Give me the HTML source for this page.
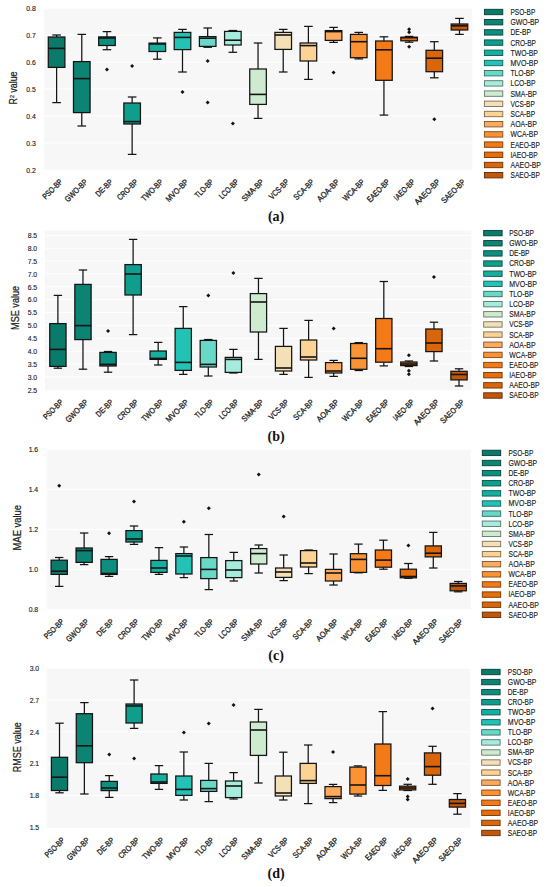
<!DOCTYPE html>
<html><head><meta charset="utf-8"><title>Box plots</title>
<style>
html,body{margin:0;padding:0;background:#fff;}
svg{display:block;}
text{font-family:"Liberation Sans",sans-serif;}
.t{stroke:#1a1a1a;stroke-width:0.15;}
.t2{stroke:#1a1a1a;stroke-width:0.3;}
</style></head>
<body>
<svg width="550" height="887" viewBox="0 0 550 887">
<rect width="550" height="887" fill="#fff"/>
<rect x="44" y="8.7" width="428.3" height="161.3" fill="#f7f7f7"/>
<line x1="44" x2="472.3" y1="142.87" y2="142.87" stroke="#ffffff" stroke-width="1"/>
<line x1="44" x2="472.3" y1="115.94" y2="115.94" stroke="#ffffff" stroke-width="1"/>
<line x1="44" x2="472.3" y1="89.01" y2="89.01" stroke="#ffffff" stroke-width="1"/>
<line x1="44" x2="472.3" y1="62.08" y2="62.08" stroke="#ffffff" stroke-width="1"/>
<line x1="44" x2="472.3" y1="35.15" y2="35.15" stroke="#ffffff" stroke-width="1"/>
<text class="t" x="35.8" y="172.55" font-size="8.1" text-anchor="end" textLength="9.56" lengthAdjust="spacingAndGlyphs" fill="#1a1a1a">0.2</text>
<text class="t" x="35.8" y="145.62" font-size="8.1" text-anchor="end" textLength="9.56" lengthAdjust="spacingAndGlyphs" fill="#1a1a1a">0.3</text>
<text class="t" x="35.8" y="118.69" font-size="8.1" text-anchor="end" textLength="9.56" lengthAdjust="spacingAndGlyphs" fill="#1a1a1a">0.4</text>
<text class="t" x="35.8" y="91.76" font-size="8.1" text-anchor="end" textLength="9.56" lengthAdjust="spacingAndGlyphs" fill="#1a1a1a">0.5</text>
<text class="t" x="35.8" y="64.83" font-size="8.1" text-anchor="end" textLength="9.56" lengthAdjust="spacingAndGlyphs" fill="#1a1a1a">0.6</text>
<text class="t" x="35.8" y="37.9" font-size="8.1" text-anchor="end" textLength="9.56" lengthAdjust="spacingAndGlyphs" fill="#1a1a1a">0.7</text>
<text class="t" x="35.8" y="10.97" font-size="8.1" text-anchor="end" textLength="9.56" lengthAdjust="spacingAndGlyphs" fill="#1a1a1a">0.8</text>
<text transform="translate(17.4 88) rotate(-90)" font-size="10" text-anchor="middle" stroke="#1a1a1a" stroke-width="0.22" textLength="33" lengthAdjust="spacingAndGlyphs" fill="#1a1a1a">R<tspan font-size="6" dy="-3.2">2</tspan><tspan dy="3.2"> value</tspan></text>
<g stroke="#141414" stroke-width="1.25"><line x1="56.6" x2="56.6" y1="35" y2="37"/><line x1="52.3" x2="60.9" y1="35" y2="35"/><line x1="56.6" x2="56.6" y1="67.4" y2="102.6"/><line x1="52.3" x2="60.9" y1="102.6" y2="102.6"/><rect x="48.3" y="37" width="16.6" height="30.4" fill="#0a7a6a"/><line x1="48.3" x2="64.9" y1="48.4" y2="48.4" stroke-width="1.6"/></g>
<text class="t2" transform="translate(63 182.5) rotate(-45)" font-size="8.2" text-anchor="end" textLength="24.36" lengthAdjust="spacingAndGlyphs" fill="#1a1a1a">PSO-BP</text>
<g stroke="#141414" stroke-width="1.25"><line x1="81.78" x2="81.78" y1="34.4" y2="61.6"/><line x1="77.48" x2="86.08" y1="34.4" y2="34.4"/><line x1="81.78" x2="81.78" y1="112.6" y2="126"/><line x1="77.48" x2="86.08" y1="126" y2="126"/><rect x="73.48" y="61.6" width="16.6" height="51" fill="#0c8373"/><line x1="73.48" x2="90.08" y1="78.6" y2="78.6" stroke-width="1.6"/></g>
<text class="t2" transform="translate(88.18 182.5) rotate(-45)" font-size="8.2" text-anchor="end" textLength="28.46" lengthAdjust="spacingAndGlyphs" fill="#1a1a1a">GWO-BP</text>
<g stroke="#141414" stroke-width="1.25"><line x1="106.96" x2="106.96" y1="31.6" y2="36.9"/><line x1="102.66" x2="111.26" y1="31.6" y2="31.6"/><line x1="106.96" x2="106.96" y1="45.5" y2="49.7"/><line x1="102.66" x2="111.26" y1="49.7" y2="49.7"/><rect x="98.66" y="36.9" width="16.6" height="8.6" fill="#0d8e7f"/><line x1="98.66" x2="115.26" y1="38" y2="38" stroke-width="1.6"/></g>
<path d="M106.96 67.6l2 2l-2 2l-2 -2z" fill="#111"/>
<text class="t2" transform="translate(113.36 182.5) rotate(-45)" font-size="8.2" text-anchor="end" textLength="20.82" lengthAdjust="spacingAndGlyphs" fill="#1a1a1a">DE-BP</text>
<g stroke="#141414" stroke-width="1.25"><line x1="132.14" x2="132.14" y1="97" y2="103"/><line x1="127.84" x2="136.44" y1="97" y2="97"/><line x1="132.14" x2="132.14" y1="124" y2="154.4"/><line x1="127.84" x2="136.44" y1="154.4" y2="154.4"/><rect x="123.84" y="103" width="16.6" height="21" fill="#0f9e8c"/><line x1="123.84" x2="140.44" y1="121.6" y2="121.6" stroke-width="1.6"/></g>
<path d="M132.14 64l2 2l-2 2l-2 -2z" fill="#111"/>
<text class="t2" transform="translate(138.54 182.5) rotate(-45)" font-size="8.2" text-anchor="end" textLength="25.88" lengthAdjust="spacingAndGlyphs" fill="#1a1a1a">CRO-BP</text>
<g stroke="#141414" stroke-width="1.25"><line x1="157.32" x2="157.32" y1="37.9" y2="43.1"/><line x1="153.02" x2="161.62" y1="37.9" y2="37.9"/><line x1="157.32" x2="157.32" y1="51.5" y2="59.2"/><line x1="153.02" x2="161.62" y1="59.2" y2="59.2"/><rect x="149.02" y="43.1" width="16.6" height="8.4" fill="#15af9e"/><line x1="149.02" x2="165.62" y1="44" y2="44" stroke-width="1.6"/></g>
<text class="t2" transform="translate(163.72 182.5) rotate(-45)" font-size="8.2" text-anchor="end" textLength="27.27" lengthAdjust="spacingAndGlyphs" fill="#1a1a1a">TWO-BP</text>
<g stroke="#141414" stroke-width="1.25"><line x1="182.5" x2="182.5" y1="29.4" y2="32.4"/><line x1="178.2" x2="186.8" y1="29.4" y2="29.4"/><line x1="182.5" x2="182.5" y1="49.6" y2="72"/><line x1="178.2" x2="186.8" y1="72" y2="72"/><rect x="174.2" y="32.4" width="16.6" height="17.2" fill="#22c2b4"/><line x1="174.2" x2="190.8" y1="37.4" y2="37.4" stroke-width="1.6"/></g>
<path d="M182.5 90l2 2l-2 2l-2 -2z" fill="#111"/>
<text class="t2" transform="translate(188.9 182.5) rotate(-45)" font-size="8.2" text-anchor="end" textLength="28.32" lengthAdjust="spacingAndGlyphs" fill="#1a1a1a">MVO-BP</text>
<g stroke="#141414" stroke-width="1.25"><line x1="207.68" x2="207.68" y1="28" y2="36.6"/><line x1="203.38" x2="211.98" y1="28" y2="28"/><line x1="203.38" x2="211.98" y1="47.3" y2="47.3"/><rect x="199.38" y="36.6" width="16.6" height="9.8" fill="#68d9c7"/><line x1="199.38" x2="215.98" y1="38.2" y2="38.2" stroke-width="1.6"/></g>
<path d="M207.68 59l2 2l-2 2l-2 -2z" fill="#111"/>
<path d="M207.68 100.4l2 2l-2 2l-2 -2z" fill="#111"/>
<text class="t2" transform="translate(214.08 182.5) rotate(-45)" font-size="8.2" text-anchor="end" textLength="22.68" lengthAdjust="spacingAndGlyphs" fill="#1a1a1a">TLO-BP</text>
<g stroke="#141414" stroke-width="1.25"><line x1="232.86" x2="232.86" y1="30.5" y2="31.4"/><line x1="228.56" x2="237.16" y1="30.5" y2="30.5"/><line x1="232.86" x2="232.86" y1="45" y2="52.3"/><line x1="228.56" x2="237.16" y1="52.3" y2="52.3"/><rect x="224.56" y="31.4" width="16.6" height="13.6" fill="#a5ecdd"/><line x1="224.56" x2="241.16" y1="40.2" y2="40.2" stroke-width="1.6"/></g>
<path d="M232.86 121.4l2 2l-2 2l-2 -2z" fill="#111"/>
<text class="t2" transform="translate(239.26 182.5) rotate(-45)" font-size="8.2" text-anchor="end" textLength="24.06" lengthAdjust="spacingAndGlyphs" fill="#1a1a1a">LCO-BP</text>
<g stroke="#141414" stroke-width="1.25"><line x1="258.04" x2="258.04" y1="43" y2="69"/><line x1="253.74" x2="262.34" y1="43" y2="43"/><line x1="258.04" x2="258.04" y1="104.4" y2="118.4"/><line x1="253.74" x2="262.34" y1="118.4" y2="118.4"/><rect x="249.74" y="69" width="16.6" height="35.4" fill="#cdeccf"/><line x1="249.74" x2="266.34" y1="94.4" y2="94.4" stroke-width="1.6"/></g>
<text class="t2" transform="translate(264.44 182.5) rotate(-45)" font-size="8.2" text-anchor="end" textLength="27.52" lengthAdjust="spacingAndGlyphs" fill="#1a1a1a">SMA-BP</text>
<g stroke="#141414" stroke-width="1.25"><line x1="283.22" x2="283.22" y1="29.4" y2="32.4"/><line x1="278.92" x2="287.52" y1="29.4" y2="29.4"/><line x1="283.22" x2="283.22" y1="49.4" y2="72"/><line x1="278.92" x2="287.52" y1="72" y2="72"/><rect x="274.92" y="32.4" width="16.6" height="17" fill="#f3e0b6"/><line x1="274.92" x2="291.52" y1="35" y2="35" stroke-width="1.6"/></g>
<text class="t2" transform="translate(289.62 182.5) rotate(-45)" font-size="8.2" text-anchor="end" textLength="24.63" lengthAdjust="spacingAndGlyphs" fill="#1a1a1a">VCS-BP</text>
<g stroke="#141414" stroke-width="1.25"><line x1="308.4" x2="308.4" y1="26.4" y2="43"/><line x1="304.1" x2="312.7" y1="26.4" y2="26.4"/><line x1="308.4" x2="308.4" y1="61" y2="79.4"/><line x1="304.1" x2="312.7" y1="79.4" y2="79.4"/><rect x="300.1" y="43" width="16.6" height="18" fill="#fdd295"/><line x1="300.1" x2="316.7" y1="45.6" y2="45.6" stroke-width="1.6"/></g>
<text class="t2" transform="translate(314.8 182.5) rotate(-45)" font-size="8.2" text-anchor="end" textLength="25.39" lengthAdjust="spacingAndGlyphs" fill="#1a1a1a">SCA-BP</text>
<g stroke="#141414" stroke-width="1.25"><line x1="333.58" x2="333.58" y1="27.4" y2="30.6"/><line x1="329.28" x2="337.88" y1="27.4" y2="27.4"/><line x1="333.58" x2="333.58" y1="40.4" y2="42.4"/><line x1="329.28" x2="337.88" y1="42.4" y2="42.4"/><rect x="325.28" y="30.6" width="16.6" height="9.8" fill="#fcab5e"/><line x1="325.28" x2="341.88" y1="31.6" y2="31.6" stroke-width="1.6"/></g>
<path d="M333.58 70.4l2 2l-2 2l-2 -2z" fill="#111"/>
<text class="t2" transform="translate(339.98 182.5) rotate(-45)" font-size="8.2" text-anchor="end" textLength="27.82" lengthAdjust="spacingAndGlyphs" fill="#1a1a1a">AOA-BP</text>
<g stroke="#141414" stroke-width="1.25"><line x1="358.76" x2="358.76" y1="32.4" y2="34.4"/><line x1="354.46" x2="363.06" y1="32.4" y2="32.4"/><line x1="358.76" x2="358.76" y1="57.7" y2="58.9"/><line x1="354.46" x2="363.06" y1="58.9" y2="58.9"/><rect x="350.46" y="34.4" width="16.6" height="23.3" fill="#fb9233"/><line x1="350.46" x2="367.06" y1="41.7" y2="41.7" stroke-width="1.6"/></g>
<text class="t2" transform="translate(365.16 182.5) rotate(-45)" font-size="8.2" text-anchor="end" textLength="27.04" lengthAdjust="spacingAndGlyphs" fill="#1a1a1a">WCA-BP</text>
<g stroke="#141414" stroke-width="1.25"><line x1="383.94" x2="383.94" y1="36.8" y2="41"/><line x1="379.64" x2="388.24" y1="36.8" y2="36.8"/><line x1="383.94" x2="383.94" y1="80.3" y2="115.1"/><line x1="379.64" x2="388.24" y1="115.1" y2="115.1"/><rect x="375.64" y="41" width="16.6" height="39.3" fill="#f47a18"/><line x1="375.64" x2="392.24" y1="49.8" y2="49.8" stroke-width="1.6"/></g>
<text class="t2" transform="translate(390.34 182.5) rotate(-45)" font-size="8.2" text-anchor="end" textLength="28.56" lengthAdjust="spacingAndGlyphs" fill="#1a1a1a">EAEO-BP</text>
<g stroke="#141414" stroke-width="1.25"><line x1="404.82" x2="413.42" y1="36.4" y2="36.4"/><line x1="409.12" x2="409.12" y1="40.8" y2="42.2"/><line x1="404.82" x2="413.42" y1="42.2" y2="42.2"/><rect x="400.82" y="37.3" width="16.6" height="3.5" fill="#e66d0a"/><line x1="400.82" x2="417.42" y1="37.6" y2="37.6" stroke-width="1.6"/></g>
<path d="M409.12 27.3l2 2l-2 2l-2 -2z" fill="#111"/>
<path d="M409.12 30.3l2 2l-2 2l-2 -2z" fill="#111"/>
<path d="M409.12 44.7l2 2l-2 2l-2 -2z" fill="#111"/>
<text class="t2" transform="translate(415.52 182.5) rotate(-45)" font-size="8.2" text-anchor="end" textLength="26.03" lengthAdjust="spacingAndGlyphs" fill="#1a1a1a">IAEO-BP</text>
<g stroke="#141414" stroke-width="1.25"><line x1="434.3" x2="434.3" y1="41.7" y2="50.3"/><line x1="430" x2="438.6" y1="41.7" y2="41.7"/><line x1="434.3" x2="434.3" y1="71.7" y2="77.8"/><line x1="430" x2="438.6" y1="77.8" y2="77.8"/><rect x="426" y="50.3" width="16.6" height="21.4" fill="#da660a"/><line x1="426" x2="442.6" y1="58.2" y2="58.2" stroke-width="1.6"/></g>
<path d="M434.3 117.3l2 2l-2 2l-2 -2z" fill="#111"/>
<text class="t2" transform="translate(440.7 182.5) rotate(-45)" font-size="8.2" text-anchor="end" textLength="32.29" lengthAdjust="spacingAndGlyphs" fill="#1a1a1a">AAEO-BP</text>
<g stroke="#141414" stroke-width="1.25"><line x1="459.48" x2="459.48" y1="18.4" y2="24"/><line x1="455.18" x2="463.78" y1="18.4" y2="18.4"/><line x1="459.48" x2="459.48" y1="30" y2="34.4"/><line x1="455.18" x2="463.78" y1="34.4" y2="34.4"/><rect x="451.18" y="24" width="16.6" height="6" fill="#c2570b"/><line x1="451.18" x2="467.78" y1="25.8" y2="25.8" stroke-width="1.6"/></g>
<text class="t2" transform="translate(465.88 182.5) rotate(-45)" font-size="8.2" text-anchor="end" textLength="30.07" lengthAdjust="spacingAndGlyphs" fill="#1a1a1a">SAEO-BP</text>
<rect x="484.4" y="9.3" width="18.4" height="5.4" fill="#0a7a6a" stroke="#053d35" stroke-width="0.9"/>
<text class="t" x="510.5" y="14.9" font-size="8.3" textLength="24.76" lengthAdjust="spacingAndGlyphs" fill="#1a1a1a">PSO-BP</text>
<rect x="484.4" y="19.5" width="18.4" height="5.4" fill="#0c8373" stroke="#064139" stroke-width="0.9"/>
<text class="t" x="510.5" y="25.1" font-size="8.3" textLength="28.62" lengthAdjust="spacingAndGlyphs" fill="#1a1a1a">GWO-BP</text>
<rect x="484.4" y="29.7" width="18.4" height="5.4" fill="#0d8e7f" stroke="#06473f" stroke-width="0.9"/>
<text class="t" x="510.5" y="35.3" font-size="8.3" textLength="20.31" lengthAdjust="spacingAndGlyphs" fill="#1a1a1a">DE-BP</text>
<rect x="484.4" y="39.9" width="18.4" height="5.4" fill="#0f9e8c" stroke="#074f46" stroke-width="0.9"/>
<text class="t" x="510.5" y="45.5" font-size="8.3" textLength="25.5" lengthAdjust="spacingAndGlyphs" fill="#1a1a1a">CRO-BP</text>
<rect x="484.4" y="50.1" width="18.4" height="5.4" fill="#15af9e" stroke="#0a574f" stroke-width="0.9"/>
<text class="t" x="510.5" y="55.7" font-size="8.3" textLength="27.43" lengthAdjust="spacingAndGlyphs" fill="#1a1a1a">TWO-BP</text>
<rect x="484.4" y="60.3" width="18.4" height="5.4" fill="#22c2b4" stroke="#11615a" stroke-width="0.9"/>
<text class="t" x="510.5" y="65.9" font-size="8.3" textLength="27.63" lengthAdjust="spacingAndGlyphs" fill="#1a1a1a">MVO-BP</text>
<rect x="484.4" y="70.5" width="18.4" height="5.4" fill="#68d9c7" stroke="#346c63" stroke-width="0.9"/>
<text class="t" x="510.5" y="76.1" font-size="8.3" textLength="24.31" lengthAdjust="spacingAndGlyphs" fill="#1a1a1a">TLO-BP</text>
<rect x="484.4" y="80.7" width="18.4" height="5.4" fill="#a5ecdd" stroke="#52766e" stroke-width="0.9"/>
<text class="t" x="510.5" y="86.3" font-size="8.3" textLength="24.98" lengthAdjust="spacingAndGlyphs" fill="#1a1a1a">LCO-BP</text>
<rect x="484.4" y="90.9" width="18.4" height="5.4" fill="#cdeccf" stroke="#667667" stroke-width="0.9"/>
<text class="t" x="510.5" y="96.5" font-size="8.3" textLength="26.32" lengthAdjust="spacingAndGlyphs" fill="#1a1a1a">SMA-BP</text>
<rect x="484.4" y="101.1" width="18.4" height="5.4" fill="#f3e0b6" stroke="#79705b" stroke-width="0.9"/>
<text class="t" x="510.5" y="106.7" font-size="8.3" textLength="24.27" lengthAdjust="spacingAndGlyphs" fill="#1a1a1a">VCS-BP</text>
<rect x="484.4" y="111.3" width="18.4" height="5.4" fill="#fdd295" stroke="#7e694a" stroke-width="0.9"/>
<text class="t" x="510.5" y="116.9" font-size="8.3" textLength="24.53" lengthAdjust="spacingAndGlyphs" fill="#1a1a1a">SCA-BP</text>
<rect x="484.4" y="121.5" width="18.4" height="5.4" fill="#fcab5e" stroke="#7e552f" stroke-width="0.9"/>
<text class="t" x="510.5" y="127.1" font-size="8.3" textLength="26.35" lengthAdjust="spacingAndGlyphs" fill="#1a1a1a">AOA-BP</text>
<rect x="484.4" y="131.7" width="18.4" height="5.4" fill="#fb9233" stroke="#7d4919" stroke-width="0.9"/>
<text class="t" x="510.5" y="137.3" font-size="8.3" textLength="27.48" lengthAdjust="spacingAndGlyphs" fill="#1a1a1a">WCA-BP</text>
<rect x="484.4" y="141.9" width="18.4" height="5.4" fill="#f47a18" stroke="#7a3d0c" stroke-width="0.9"/>
<text class="t" x="510.5" y="147.5" font-size="8.3" textLength="29.33" lengthAdjust="spacingAndGlyphs" fill="#1a1a1a">EAEO-BP</text>
<rect x="484.4" y="152.1" width="18.4" height="5.4" fill="#e66d0a" stroke="#733605" stroke-width="0.9"/>
<text class="t" x="510.5" y="157.7" font-size="8.3" textLength="27.3" lengthAdjust="spacingAndGlyphs" fill="#1a1a1a">IAEO-BP</text>
<rect x="484.4" y="162.3" width="18.4" height="5.4" fill="#da660a" stroke="#6d3305" stroke-width="0.9"/>
<text class="t" x="510.5" y="167.9" font-size="8.3" textLength="30.29" lengthAdjust="spacingAndGlyphs" fill="#1a1a1a">AAEO-BP</text>
<rect x="484.4" y="172.5" width="18.4" height="5.4" fill="#c2570b" stroke="#612b05" stroke-width="0.9"/>
<text class="t" x="510.5" y="178.1" font-size="8.3" textLength="29.34" lengthAdjust="spacingAndGlyphs" fill="#1a1a1a">SAEO-BP</text>
<text x="276.1" y="220.6" style="font-family:'Liberation Serif',serif" font-weight="bold" font-size="14" text-anchor="middle" fill="#111">(a)</text>
<rect x="45" y="230.5" width="426.4" height="159.8" fill="#f7f7f7"/>
<line x1="45" x2="471.4" y1="376.93" y2="376.93" stroke="#ffffff" stroke-width="1"/>
<line x1="45" x2="471.4" y1="364.05" y2="364.05" stroke="#ffffff" stroke-width="1"/>
<line x1="45" x2="471.4" y1="351.18" y2="351.18" stroke="#ffffff" stroke-width="1"/>
<line x1="45" x2="471.4" y1="338.3" y2="338.3" stroke="#ffffff" stroke-width="1"/>
<line x1="45" x2="471.4" y1="325.43" y2="325.43" stroke="#ffffff" stroke-width="1"/>
<line x1="45" x2="471.4" y1="312.55" y2="312.55" stroke="#ffffff" stroke-width="1"/>
<line x1="45" x2="471.4" y1="299.68" y2="299.68" stroke="#ffffff" stroke-width="1"/>
<line x1="45" x2="471.4" y1="286.8" y2="286.8" stroke="#ffffff" stroke-width="1"/>
<line x1="45" x2="471.4" y1="273.93" y2="273.93" stroke="#ffffff" stroke-width="1"/>
<line x1="45" x2="471.4" y1="261.05" y2="261.05" stroke="#ffffff" stroke-width="1"/>
<line x1="45" x2="471.4" y1="248.18" y2="248.18" stroke="#ffffff" stroke-width="1"/>
<line x1="45" x2="471.4" y1="235.3" y2="235.3" stroke="#ffffff" stroke-width="1"/>
<text class="t" x="37.2" y="392.55" font-size="8.1" text-anchor="end" textLength="9.56" lengthAdjust="spacingAndGlyphs" fill="#1a1a1a">2.5</text>
<text class="t" x="37.2" y="379.68" font-size="8.1" text-anchor="end" textLength="9.56" lengthAdjust="spacingAndGlyphs" fill="#1a1a1a">3.0</text>
<text class="t" x="37.2" y="366.8" font-size="8.1" text-anchor="end" textLength="9.56" lengthAdjust="spacingAndGlyphs" fill="#1a1a1a">3.5</text>
<text class="t" x="37.2" y="353.93" font-size="8.1" text-anchor="end" textLength="9.56" lengthAdjust="spacingAndGlyphs" fill="#1a1a1a">4.0</text>
<text class="t" x="37.2" y="341.05" font-size="8.1" text-anchor="end" textLength="9.56" lengthAdjust="spacingAndGlyphs" fill="#1a1a1a">4.5</text>
<text class="t" x="37.2" y="328.18" font-size="8.1" text-anchor="end" textLength="9.56" lengthAdjust="spacingAndGlyphs" fill="#1a1a1a">5.0</text>
<text class="t" x="37.2" y="315.3" font-size="8.1" text-anchor="end" textLength="9.56" lengthAdjust="spacingAndGlyphs" fill="#1a1a1a">5.5</text>
<text class="t" x="37.2" y="302.43" font-size="8.1" text-anchor="end" textLength="9.56" lengthAdjust="spacingAndGlyphs" fill="#1a1a1a">6.0</text>
<text class="t" x="37.2" y="289.55" font-size="8.1" text-anchor="end" textLength="9.56" lengthAdjust="spacingAndGlyphs" fill="#1a1a1a">6.5</text>
<text class="t" x="37.2" y="276.68" font-size="8.1" text-anchor="end" textLength="9.56" lengthAdjust="spacingAndGlyphs" fill="#1a1a1a">7.0</text>
<text class="t" x="37.2" y="263.8" font-size="8.1" text-anchor="end" textLength="9.56" lengthAdjust="spacingAndGlyphs" fill="#1a1a1a">7.5</text>
<text class="t" x="37.2" y="250.93" font-size="8.1" text-anchor="end" textLength="9.56" lengthAdjust="spacingAndGlyphs" fill="#1a1a1a">8.0</text>
<text class="t" x="37.2" y="238.05" font-size="8.1" text-anchor="end" textLength="9.56" lengthAdjust="spacingAndGlyphs" fill="#1a1a1a">8.5</text>
<text transform="translate(19.4 307.9) rotate(-90)" font-size="10" text-anchor="middle" stroke="#1a1a1a" stroke-width="0.22" textLength="44" lengthAdjust="spacingAndGlyphs" fill="#1a1a1a">MSE value</text>
<g stroke="#141414" stroke-width="1.25"><line x1="57.9" x2="57.9" y1="295.4" y2="323.6"/><line x1="53.7" x2="62.1" y1="295.4" y2="295.4"/><line x1="57.9" x2="57.9" y1="366.4" y2="368.2"/><line x1="53.7" x2="62.1" y1="368.2" y2="368.2"/><rect x="49.75" y="323.6" width="16.3" height="42.8" fill="#0a7a6a"/><line x1="49.75" x2="66.05" y1="349.4" y2="349.4" stroke-width="1.6"/></g>
<text class="t2" transform="translate(63.7 402.8) rotate(-45)" font-size="8.2" text-anchor="end" textLength="24.36" lengthAdjust="spacingAndGlyphs" fill="#1a1a1a">PSO-BP</text>
<g stroke="#141414" stroke-width="1.25"><line x1="82.97" x2="82.97" y1="270" y2="284.4"/><line x1="78.77" x2="87.17" y1="270" y2="270"/><line x1="82.97" x2="82.97" y1="339.6" y2="369.2"/><line x1="78.77" x2="87.17" y1="369.2" y2="369.2"/><rect x="74.82" y="284.4" width="16.3" height="55.2" fill="#0c8373"/><line x1="74.82" x2="91.12" y1="325.6" y2="325.6" stroke-width="1.6"/></g>
<text class="t2" transform="translate(88.77 402.8) rotate(-45)" font-size="8.2" text-anchor="end" textLength="28.46" lengthAdjust="spacingAndGlyphs" fill="#1a1a1a">GWO-BP</text>
<g stroke="#141414" stroke-width="1.25"><line x1="103.84" x2="112.24" y1="351.5" y2="351.5"/><line x1="108.04" x2="108.04" y1="366" y2="372.2"/><line x1="103.84" x2="112.24" y1="372.2" y2="372.2"/><rect x="99.89" y="352.4" width="16.3" height="13.6" fill="#0d8e7f"/><line x1="99.89" x2="116.19" y1="364.4" y2="364.4" stroke-width="1.6"/></g>
<path d="M108.04 329l2 2l-2 2l-2 -2z" fill="#111"/>
<text class="t2" transform="translate(113.84 402.8) rotate(-45)" font-size="8.2" text-anchor="end" textLength="20.82" lengthAdjust="spacingAndGlyphs" fill="#1a1a1a">DE-BP</text>
<g stroke="#141414" stroke-width="1.25"><line x1="133.11" x2="133.11" y1="239.4" y2="264.6"/><line x1="128.91" x2="137.31" y1="239.4" y2="239.4"/><line x1="133.11" x2="133.11" y1="295" y2="334.6"/><line x1="128.91" x2="137.31" y1="334.6" y2="334.6"/><rect x="124.96" y="264.6" width="16.3" height="30.4" fill="#0f9e8c"/><line x1="124.96" x2="141.26" y1="274" y2="274" stroke-width="1.6"/></g>
<text class="t2" transform="translate(138.91 402.8) rotate(-45)" font-size="8.2" text-anchor="end" textLength="25.88" lengthAdjust="spacingAndGlyphs" fill="#1a1a1a">CRO-BP</text>
<g stroke="#141414" stroke-width="1.25"><line x1="158.18" x2="158.18" y1="342.4" y2="351"/><line x1="153.98" x2="162.38" y1="342.4" y2="342.4"/><line x1="158.18" x2="158.18" y1="359.4" y2="365"/><line x1="153.98" x2="162.38" y1="365" y2="365"/><rect x="150.03" y="351" width="16.3" height="8.4" fill="#15af9e"/><line x1="150.03" x2="166.33" y1="358.4" y2="358.4" stroke-width="1.6"/></g>
<text class="t2" transform="translate(163.98 402.8) rotate(-45)" font-size="8.2" text-anchor="end" textLength="27.27" lengthAdjust="spacingAndGlyphs" fill="#1a1a1a">TWO-BP</text>
<g stroke="#141414" stroke-width="1.25"><line x1="183.25" x2="183.25" y1="306.6" y2="328.4"/><line x1="179.05" x2="187.45" y1="306.6" y2="306.6"/><line x1="183.25" x2="183.25" y1="370.4" y2="374.4"/><line x1="179.05" x2="187.45" y1="374.4" y2="374.4"/><rect x="175.1" y="328.4" width="16.3" height="42" fill="#22c2b4"/><line x1="175.1" x2="191.4" y1="362.4" y2="362.4" stroke-width="1.6"/></g>
<text class="t2" transform="translate(189.05 402.8) rotate(-45)" font-size="8.2" text-anchor="end" textLength="28.32" lengthAdjust="spacingAndGlyphs" fill="#1a1a1a">MVO-BP</text>
<g stroke="#141414" stroke-width="1.25"><line x1="204.12" x2="212.52" y1="339.5" y2="339.5"/><line x1="208.32" x2="208.32" y1="367" y2="376"/><line x1="204.12" x2="212.52" y1="376" y2="376"/><rect x="200.17" y="340.4" width="16.3" height="26.6" fill="#68d9c7"/><line x1="200.17" x2="216.47" y1="364.4" y2="364.4" stroke-width="1.6"/></g>
<path d="M208.32 293.4l2 2l-2 2l-2 -2z" fill="#111"/>
<text class="t2" transform="translate(214.12 402.8) rotate(-45)" font-size="8.2" text-anchor="end" textLength="22.68" lengthAdjust="spacingAndGlyphs" fill="#1a1a1a">TLO-BP</text>
<g stroke="#141414" stroke-width="1.25"><line x1="233.39" x2="233.39" y1="349.4" y2="357.4"/><line x1="229.19" x2="237.59" y1="349.4" y2="349.4"/><line x1="233.39" x2="233.39" y1="372.4" y2="373"/><line x1="229.19" x2="237.59" y1="373" y2="373"/><rect x="225.24" y="357.4" width="16.3" height="15" fill="#a5ecdd"/><line x1="225.24" x2="241.54" y1="359.4" y2="359.4" stroke-width="1.6"/></g>
<path d="M233.39 271l2 2l-2 2l-2 -2z" fill="#111"/>
<text class="t2" transform="translate(239.19 402.8) rotate(-45)" font-size="8.2" text-anchor="end" textLength="24.06" lengthAdjust="spacingAndGlyphs" fill="#1a1a1a">LCO-BP</text>
<g stroke="#141414" stroke-width="1.25"><line x1="258.46" x2="258.46" y1="278.4" y2="293.6"/><line x1="254.26" x2="262.66" y1="278.4" y2="278.4"/><line x1="258.46" x2="258.46" y1="332" y2="359.4"/><line x1="254.26" x2="262.66" y1="359.4" y2="359.4"/><rect x="250.31" y="293.6" width="16.3" height="38.4" fill="#cdeccf"/><line x1="250.31" x2="266.61" y1="302" y2="302" stroke-width="1.6"/></g>
<text class="t2" transform="translate(264.26 402.8) rotate(-45)" font-size="8.2" text-anchor="end" textLength="27.52" lengthAdjust="spacingAndGlyphs" fill="#1a1a1a">SMA-BP</text>
<g stroke="#141414" stroke-width="1.25"><line x1="283.53" x2="283.53" y1="328.4" y2="346.4"/><line x1="279.33" x2="287.73" y1="328.4" y2="328.4"/><line x1="283.53" x2="283.53" y1="371" y2="374.4"/><line x1="279.33" x2="287.73" y1="374.4" y2="374.4"/><rect x="275.38" y="346.4" width="16.3" height="24.6" fill="#f3e0b6"/><line x1="275.38" x2="291.68" y1="368" y2="368" stroke-width="1.6"/></g>
<text class="t2" transform="translate(289.33 402.8) rotate(-45)" font-size="8.2" text-anchor="end" textLength="24.63" lengthAdjust="spacingAndGlyphs" fill="#1a1a1a">VCS-BP</text>
<g stroke="#141414" stroke-width="1.25"><line x1="308.6" x2="308.6" y1="320.4" y2="340"/><line x1="304.4" x2="312.8" y1="320.4" y2="320.4"/><line x1="308.6" x2="308.6" y1="360" y2="377.4"/><line x1="304.4" x2="312.8" y1="377.4" y2="377.4"/><rect x="300.45" y="340" width="16.3" height="20" fill="#fdd295"/><line x1="300.45" x2="316.75" y1="357" y2="357" stroke-width="1.6"/></g>
<text class="t2" transform="translate(314.4 402.8) rotate(-45)" font-size="8.2" text-anchor="end" textLength="25.39" lengthAdjust="spacingAndGlyphs" fill="#1a1a1a">SCA-BP</text>
<g stroke="#141414" stroke-width="1.25"><line x1="333.67" x2="333.67" y1="360.4" y2="362.6"/><line x1="329.47" x2="337.87" y1="360.4" y2="360.4"/><line x1="333.67" x2="333.67" y1="373" y2="376.4"/><line x1="329.47" x2="337.87" y1="376.4" y2="376.4"/><rect x="325.52" y="362.6" width="16.3" height="10.4" fill="#fcab5e"/><line x1="325.52" x2="341.82" y1="371" y2="371" stroke-width="1.6"/></g>
<path d="M333.67 326.4l2 2l-2 2l-2 -2z" fill="#111"/>
<text class="t2" transform="translate(339.47 402.8) rotate(-45)" font-size="8.2" text-anchor="end" textLength="27.82" lengthAdjust="spacingAndGlyphs" fill="#1a1a1a">AOA-BP</text>
<g stroke="#141414" stroke-width="1.25"><line x1="358.74" x2="358.74" y1="342.6" y2="343.5"/><line x1="354.54" x2="362.94" y1="342.6" y2="342.6"/><line x1="358.74" x2="358.74" y1="369.3" y2="370.5"/><line x1="354.54" x2="362.94" y1="370.5" y2="370.5"/><rect x="350.59" y="343.5" width="16.3" height="25.8" fill="#fb9233"/><line x1="350.59" x2="366.89" y1="358.3" y2="358.3" stroke-width="1.6"/></g>
<text class="t2" transform="translate(364.54 402.8) rotate(-45)" font-size="8.2" text-anchor="end" textLength="27.04" lengthAdjust="spacingAndGlyphs" fill="#1a1a1a">WCA-BP</text>
<g stroke="#141414" stroke-width="1.25"><line x1="383.81" x2="383.81" y1="281.5" y2="318.5"/><line x1="379.61" x2="388.01" y1="281.5" y2="281.5"/><line x1="383.81" x2="383.81" y1="362.2" y2="365.9"/><line x1="379.61" x2="388.01" y1="365.9" y2="365.9"/><rect x="375.66" y="318.5" width="16.3" height="43.7" fill="#f47a18"/><line x1="375.66" x2="391.96" y1="348.7" y2="348.7" stroke-width="1.6"/></g>
<text class="t2" transform="translate(389.61 402.8) rotate(-45)" font-size="8.2" text-anchor="end" textLength="28.56" lengthAdjust="spacingAndGlyphs" fill="#1a1a1a">EAEO-BP</text>
<g stroke="#141414" stroke-width="1.25"><line x1="408.88" x2="408.88" y1="361" y2="362"/><line x1="404.68" x2="413.08" y1="361" y2="361"/><line x1="408.88" x2="408.88" y1="365.6" y2="366.5"/><line x1="404.68" x2="413.08" y1="366.5" y2="366.5"/><rect x="400.73" y="362" width="16.3" height="3.6" fill="#e66d0a"/><line x1="400.73" x2="417.03" y1="364" y2="364" stroke-width="1.6"/></g>
<path d="M408.88 353.3l2 2l-2 2l-2 -2z" fill="#111"/>
<path d="M408.88 368.8l2 2l-2 2l-2 -2z" fill="#111"/>
<path d="M408.88 372.2l2 2l-2 2l-2 -2z" fill="#111"/>
<text class="t2" transform="translate(414.68 402.8) rotate(-45)" font-size="8.2" text-anchor="end" textLength="26.03" lengthAdjust="spacingAndGlyphs" fill="#1a1a1a">IAEO-BP</text>
<g stroke="#141414" stroke-width="1.25"><line x1="433.95" x2="433.95" y1="322.2" y2="329"/><line x1="429.75" x2="438.15" y1="322.2" y2="322.2"/><line x1="433.95" x2="433.95" y1="351.6" y2="361"/><line x1="429.75" x2="438.15" y1="361" y2="361"/><rect x="425.8" y="329" width="16.3" height="22.6" fill="#da660a"/><line x1="425.8" x2="442.1" y1="343" y2="343" stroke-width="1.6"/></g>
<path d="M433.95 275l2 2l-2 2l-2 -2z" fill="#111"/>
<text class="t2" transform="translate(439.75 402.8) rotate(-45)" font-size="8.2" text-anchor="end" textLength="32.29" lengthAdjust="spacingAndGlyphs" fill="#1a1a1a">AAEO-BP</text>
<g stroke="#141414" stroke-width="1.25"><line x1="459.02" x2="459.02" y1="368.8" y2="371.3"/><line x1="454.82" x2="463.22" y1="368.8" y2="368.8"/><line x1="459.02" x2="459.02" y1="379.9" y2="386"/><line x1="454.82" x2="463.22" y1="386" y2="386"/><rect x="450.87" y="371.3" width="16.3" height="8.6" fill="#c2570b"/><line x1="450.87" x2="467.17" y1="374.5" y2="374.5" stroke-width="1.6"/></g>
<text class="t2" transform="translate(464.82 402.8) rotate(-45)" font-size="8.2" text-anchor="end" textLength="30.07" lengthAdjust="spacingAndGlyphs" fill="#1a1a1a">SAEO-BP</text>
<rect x="483.7" y="230.4" width="18.4" height="5.4" fill="#0a7a6a" stroke="#053d35" stroke-width="0.9"/>
<text class="t" x="509.2" y="236" font-size="8.3" textLength="24.76" lengthAdjust="spacingAndGlyphs" fill="#1a1a1a">PSO-BP</text>
<rect x="483.7" y="240.55" width="18.4" height="5.4" fill="#0c8373" stroke="#064139" stroke-width="0.9"/>
<text class="t" x="509.2" y="246.15" font-size="8.3" textLength="28.62" lengthAdjust="spacingAndGlyphs" fill="#1a1a1a">GWO-BP</text>
<rect x="483.7" y="250.7" width="18.4" height="5.4" fill="#0d8e7f" stroke="#06473f" stroke-width="0.9"/>
<text class="t" x="509.2" y="256.3" font-size="8.3" textLength="20.31" lengthAdjust="spacingAndGlyphs" fill="#1a1a1a">DE-BP</text>
<rect x="483.7" y="260.85" width="18.4" height="5.4" fill="#0f9e8c" stroke="#074f46" stroke-width="0.9"/>
<text class="t" x="509.2" y="266.45" font-size="8.3" textLength="25.5" lengthAdjust="spacingAndGlyphs" fill="#1a1a1a">CRO-BP</text>
<rect x="483.7" y="271" width="18.4" height="5.4" fill="#15af9e" stroke="#0a574f" stroke-width="0.9"/>
<text class="t" x="509.2" y="276.6" font-size="8.3" textLength="27.43" lengthAdjust="spacingAndGlyphs" fill="#1a1a1a">TWO-BP</text>
<rect x="483.7" y="281.15" width="18.4" height="5.4" fill="#22c2b4" stroke="#11615a" stroke-width="0.9"/>
<text class="t" x="509.2" y="286.75" font-size="8.3" textLength="27.63" lengthAdjust="spacingAndGlyphs" fill="#1a1a1a">MVO-BP</text>
<rect x="483.7" y="291.3" width="18.4" height="5.4" fill="#68d9c7" stroke="#346c63" stroke-width="0.9"/>
<text class="t" x="509.2" y="296.9" font-size="8.3" textLength="24.31" lengthAdjust="spacingAndGlyphs" fill="#1a1a1a">TLO-BP</text>
<rect x="483.7" y="301.45" width="18.4" height="5.4" fill="#a5ecdd" stroke="#52766e" stroke-width="0.9"/>
<text class="t" x="509.2" y="307.05" font-size="8.3" textLength="24.98" lengthAdjust="spacingAndGlyphs" fill="#1a1a1a">LCO-BP</text>
<rect x="483.7" y="311.6" width="18.4" height="5.4" fill="#cdeccf" stroke="#667667" stroke-width="0.9"/>
<text class="t" x="509.2" y="317.2" font-size="8.3" textLength="26.32" lengthAdjust="spacingAndGlyphs" fill="#1a1a1a">SMA-BP</text>
<rect x="483.7" y="321.75" width="18.4" height="5.4" fill="#f3e0b6" stroke="#79705b" stroke-width="0.9"/>
<text class="t" x="509.2" y="327.35" font-size="8.3" textLength="24.27" lengthAdjust="spacingAndGlyphs" fill="#1a1a1a">VCS-BP</text>
<rect x="483.7" y="331.9" width="18.4" height="5.4" fill="#fdd295" stroke="#7e694a" stroke-width="0.9"/>
<text class="t" x="509.2" y="337.5" font-size="8.3" textLength="24.53" lengthAdjust="spacingAndGlyphs" fill="#1a1a1a">SCA-BP</text>
<rect x="483.7" y="342.05" width="18.4" height="5.4" fill="#fcab5e" stroke="#7e552f" stroke-width="0.9"/>
<text class="t" x="509.2" y="347.65" font-size="8.3" textLength="26.35" lengthAdjust="spacingAndGlyphs" fill="#1a1a1a">AOA-BP</text>
<rect x="483.7" y="352.2" width="18.4" height="5.4" fill="#fb9233" stroke="#7d4919" stroke-width="0.9"/>
<text class="t" x="509.2" y="357.8" font-size="8.3" textLength="27.48" lengthAdjust="spacingAndGlyphs" fill="#1a1a1a">WCA-BP</text>
<rect x="483.7" y="362.35" width="18.4" height="5.4" fill="#f47a18" stroke="#7a3d0c" stroke-width="0.9"/>
<text class="t" x="509.2" y="367.95" font-size="8.3" textLength="29.33" lengthAdjust="spacingAndGlyphs" fill="#1a1a1a">EAEO-BP</text>
<rect x="483.7" y="372.5" width="18.4" height="5.4" fill="#e66d0a" stroke="#733605" stroke-width="0.9"/>
<text class="t" x="509.2" y="378.1" font-size="8.3" textLength="27.3" lengthAdjust="spacingAndGlyphs" fill="#1a1a1a">IAEO-BP</text>
<rect x="483.7" y="382.65" width="18.4" height="5.4" fill="#da660a" stroke="#6d3305" stroke-width="0.9"/>
<text class="t" x="509.2" y="388.25" font-size="8.3" textLength="30.29" lengthAdjust="spacingAndGlyphs" fill="#1a1a1a">AAEO-BP</text>
<rect x="483.7" y="392.8" width="18.4" height="5.4" fill="#c2570b" stroke="#612b05" stroke-width="0.9"/>
<text class="t" x="509.2" y="398.4" font-size="8.3" textLength="29.34" lengthAdjust="spacingAndGlyphs" fill="#1a1a1a">SAEO-BP</text>
<text x="276.1" y="440.5" style="font-family:'Liberation Serif',serif" font-weight="bold" font-size="14" text-anchor="middle" fill="#111">(b)</text>
<rect x="46.6" y="449.6" width="424.1" height="159.7" fill="#f7f7f7"/>
<line x1="46.6" x2="470.7" y1="569.32" y2="569.32" stroke="#ffffff" stroke-width="1"/>
<line x1="46.6" x2="470.7" y1="529.44" y2="529.44" stroke="#ffffff" stroke-width="1"/>
<line x1="46.6" x2="470.7" y1="489.56" y2="489.56" stroke="#ffffff" stroke-width="1"/>
<text class="t" x="38.2" y="611.95" font-size="8.1" text-anchor="end" textLength="9.56" lengthAdjust="spacingAndGlyphs" fill="#1a1a1a">0.8</text>
<text class="t" x="38.2" y="572.07" font-size="8.1" text-anchor="end" textLength="9.56" lengthAdjust="spacingAndGlyphs" fill="#1a1a1a">1.0</text>
<text class="t" x="38.2" y="532.19" font-size="8.1" text-anchor="end" textLength="9.56" lengthAdjust="spacingAndGlyphs" fill="#1a1a1a">1.2</text>
<text class="t" x="38.2" y="492.31" font-size="8.1" text-anchor="end" textLength="9.56" lengthAdjust="spacingAndGlyphs" fill="#1a1a1a">1.4</text>
<text class="t" x="38.2" y="452.43" font-size="8.1" text-anchor="end" textLength="9.56" lengthAdjust="spacingAndGlyphs" fill="#1a1a1a">1.6</text>
<text transform="translate(20.9 527.7) rotate(-90)" font-size="10" text-anchor="middle" stroke="#1a1a1a" stroke-width="0.22" textLength="45.6" lengthAdjust="spacingAndGlyphs" fill="#1a1a1a">MAE value</text>
<g stroke="#141414" stroke-width="1.25"><line x1="59.2" x2="59.2" y1="557.5" y2="560.2"/><line x1="55" x2="63.4" y1="557.5" y2="557.5"/><line x1="59.2" x2="59.2" y1="574.4" y2="586.4"/><line x1="55" x2="63.4" y1="586.4" y2="586.4"/><rect x="51.1" y="560.2" width="16.2" height="14.2" fill="#0a7a6a"/><line x1="51.1" x2="67.3" y1="571.2" y2="571.2" stroke-width="1.6"/></g>
<path d="M59.2 483.7l2 2l-2 2l-2 -2z" fill="#111"/>
<text class="t2" transform="translate(64.5 622.3) rotate(-45)" font-size="8.2" text-anchor="end" textLength="24.36" lengthAdjust="spacingAndGlyphs" fill="#1a1a1a">PSO-BP</text>
<g stroke="#141414" stroke-width="1.25"><line x1="84.14" x2="84.14" y1="533" y2="548"/><line x1="79.94" x2="88.34" y1="533" y2="533"/><line x1="84.14" x2="84.14" y1="562.4" y2="564.6"/><line x1="79.94" x2="88.34" y1="564.6" y2="564.6"/><rect x="76.04" y="548" width="16.2" height="14.4" fill="#0c8373"/><line x1="76.04" x2="92.24" y1="550.6" y2="550.6" stroke-width="1.6"/></g>
<text class="t2" transform="translate(89.44 622.3) rotate(-45)" font-size="8.2" text-anchor="end" textLength="28.46" lengthAdjust="spacingAndGlyphs" fill="#1a1a1a">GWO-BP</text>
<g stroke="#141414" stroke-width="1.25"><line x1="109.08" x2="109.08" y1="556.6" y2="559.4"/><line x1="104.88" x2="113.28" y1="556.6" y2="556.6"/><line x1="109.08" x2="109.08" y1="574.4" y2="576.4"/><line x1="104.88" x2="113.28" y1="576.4" y2="576.4"/><rect x="100.98" y="559.4" width="16.2" height="15" fill="#0d8e7f"/><line x1="100.98" x2="117.18" y1="573.5" y2="573.5" stroke-width="1.6"/></g>
<path d="M109.08 531.2l2 2l-2 2l-2 -2z" fill="#111"/>
<text class="t2" transform="translate(114.38 622.3) rotate(-45)" font-size="8.2" text-anchor="end" textLength="20.82" lengthAdjust="spacingAndGlyphs" fill="#1a1a1a">DE-BP</text>
<g stroke="#141414" stroke-width="1.25"><line x1="134.02" x2="134.02" y1="526" y2="530.6"/><line x1="129.82" x2="138.22" y1="526" y2="526"/><line x1="134.02" x2="134.02" y1="542" y2="544.4"/><line x1="129.82" x2="138.22" y1="544.4" y2="544.4"/><rect x="125.92" y="530.6" width="16.2" height="11.4" fill="#0f9e8c"/><line x1="125.92" x2="142.12" y1="539" y2="539" stroke-width="1.6"/></g>
<path d="M134.02 499.6l2 2l-2 2l-2 -2z" fill="#111"/>
<text class="t2" transform="translate(139.32 622.3) rotate(-45)" font-size="8.2" text-anchor="end" textLength="25.88" lengthAdjust="spacingAndGlyphs" fill="#1a1a1a">CRO-BP</text>
<g stroke="#141414" stroke-width="1.25"><line x1="158.96" x2="158.96" y1="547.6" y2="560.4"/><line x1="154.76" x2="163.16" y1="547.6" y2="547.6"/><line x1="158.96" x2="158.96" y1="572.4" y2="574.4"/><line x1="154.76" x2="163.16" y1="574.4" y2="574.4"/><rect x="150.86" y="560.4" width="16.2" height="12" fill="#15af9e"/><line x1="150.86" x2="167.06" y1="568" y2="568" stroke-width="1.6"/></g>
<text class="t2" transform="translate(164.26 622.3) rotate(-45)" font-size="8.2" text-anchor="end" textLength="27.27" lengthAdjust="spacingAndGlyphs" fill="#1a1a1a">TWO-BP</text>
<g stroke="#141414" stroke-width="1.25"><line x1="183.9" x2="183.9" y1="547" y2="553.6"/><line x1="179.7" x2="188.1" y1="547" y2="547"/><line x1="183.9" x2="183.9" y1="574" y2="577.6"/><line x1="179.7" x2="188.1" y1="577.6" y2="577.6"/><rect x="175.8" y="553.6" width="16.2" height="20.4" fill="#22c2b4"/><line x1="175.8" x2="192" y1="556" y2="556" stroke-width="1.6"/></g>
<path d="M183.9 519.8l2 2l-2 2l-2 -2z" fill="#111"/>
<text class="t2" transform="translate(189.2 622.3) rotate(-45)" font-size="8.2" text-anchor="end" textLength="28.32" lengthAdjust="spacingAndGlyphs" fill="#1a1a1a">MVO-BP</text>
<g stroke="#141414" stroke-width="1.25"><line x1="208.84" x2="208.84" y1="534.5" y2="557.6"/><line x1="204.64" x2="213.04" y1="534.5" y2="534.5"/><line x1="208.84" x2="208.84" y1="578.6" y2="589.6"/><line x1="204.64" x2="213.04" y1="589.6" y2="589.6"/><rect x="200.74" y="557.6" width="16.2" height="21" fill="#68d9c7"/><line x1="200.74" x2="216.94" y1="569.4" y2="569.4" stroke-width="1.6"/></g>
<path d="M208.84 506.2l2 2l-2 2l-2 -2z" fill="#111"/>
<text class="t2" transform="translate(214.14 622.3) rotate(-45)" font-size="8.2" text-anchor="end" textLength="22.68" lengthAdjust="spacingAndGlyphs" fill="#1a1a1a">TLO-BP</text>
<g stroke="#141414" stroke-width="1.25"><line x1="233.78" x2="233.78" y1="552.4" y2="560.6"/><line x1="229.58" x2="237.98" y1="552.4" y2="552.4"/><line x1="233.78" x2="233.78" y1="577.6" y2="581"/><line x1="229.58" x2="237.98" y1="581" y2="581"/><rect x="225.68" y="560.6" width="16.2" height="17" fill="#a5ecdd"/><line x1="225.68" x2="241.88" y1="570" y2="570" stroke-width="1.6"/></g>
<text class="t2" transform="translate(239.08 622.3) rotate(-45)" font-size="8.2" text-anchor="end" textLength="24.06" lengthAdjust="spacingAndGlyphs" fill="#1a1a1a">LCO-BP</text>
<g stroke="#141414" stroke-width="1.25"><line x1="258.72" x2="258.72" y1="545" y2="548.6"/><line x1="254.52" x2="262.92" y1="545" y2="545"/><line x1="258.72" x2="258.72" y1="564" y2="573"/><line x1="254.52" x2="262.92" y1="573" y2="573"/><rect x="250.62" y="548.6" width="16.2" height="15.4" fill="#cdeccf"/><line x1="250.62" x2="266.82" y1="553.6" y2="553.6" stroke-width="1.6"/></g>
<path d="M258.72 472.4l2 2l-2 2l-2 -2z" fill="#111"/>
<text class="t2" transform="translate(264.02 622.3) rotate(-45)" font-size="8.2" text-anchor="end" textLength="27.52" lengthAdjust="spacingAndGlyphs" fill="#1a1a1a">SMA-BP</text>
<g stroke="#141414" stroke-width="1.25"><line x1="283.66" x2="283.66" y1="555" y2="568"/><line x1="279.46" x2="287.86" y1="555" y2="555"/><line x1="283.66" x2="283.66" y1="577.4" y2="580.6"/><line x1="279.46" x2="287.86" y1="580.6" y2="580.6"/><rect x="275.56" y="568" width="16.2" height="9.4" fill="#f3e0b6"/><line x1="275.56" x2="291.76" y1="572" y2="572" stroke-width="1.6"/></g>
<path d="M283.66 514.4l2 2l-2 2l-2 -2z" fill="#111"/>
<text class="t2" transform="translate(288.96 622.3) rotate(-45)" font-size="8.2" text-anchor="end" textLength="24.63" lengthAdjust="spacingAndGlyphs" fill="#1a1a1a">VCS-BP</text>
<g stroke="#141414" stroke-width="1.25"><line x1="308.6" x2="308.6" y1="550" y2="550.6"/><line x1="304.4" x2="312.8" y1="550" y2="550"/><line x1="308.6" x2="308.6" y1="567" y2="573.6"/><line x1="304.4" x2="312.8" y1="573.6" y2="573.6"/><rect x="300.5" y="550.6" width="16.2" height="16.4" fill="#fdd295"/><line x1="300.5" x2="316.7" y1="563" y2="563" stroke-width="1.6"/></g>
<text class="t2" transform="translate(313.9 622.3) rotate(-45)" font-size="8.2" text-anchor="end" textLength="25.39" lengthAdjust="spacingAndGlyphs" fill="#1a1a1a">SCA-BP</text>
<g stroke="#141414" stroke-width="1.25"><line x1="333.54" x2="333.54" y1="554" y2="569.4"/><line x1="329.34" x2="337.74" y1="554" y2="554"/><line x1="333.54" x2="333.54" y1="581" y2="585"/><line x1="329.34" x2="337.74" y1="585" y2="585"/><rect x="325.44" y="569.4" width="16.2" height="11.6" fill="#fcab5e"/><line x1="325.44" x2="341.64" y1="573" y2="573" stroke-width="1.6"/></g>
<text class="t2" transform="translate(338.84 622.3) rotate(-45)" font-size="8.2" text-anchor="end" textLength="27.82" lengthAdjust="spacingAndGlyphs" fill="#1a1a1a">AOA-BP</text>
<g stroke="#141414" stroke-width="1.25"><line x1="358.48" x2="358.48" y1="544.1" y2="553.7"/><line x1="354.28" x2="362.68" y1="544.1" y2="544.1"/><line x1="358.48" x2="358.48" y1="572.4" y2="572.8"/><line x1="354.28" x2="362.68" y1="572.8" y2="572.8"/><rect x="350.38" y="553.7" width="16.2" height="18.7" fill="#fb9233"/><line x1="350.38" x2="366.58" y1="559.4" y2="559.4" stroke-width="1.6"/></g>
<text class="t2" transform="translate(363.78 622.3) rotate(-45)" font-size="8.2" text-anchor="end" textLength="27.04" lengthAdjust="spacingAndGlyphs" fill="#1a1a1a">WCA-BP</text>
<g stroke="#141414" stroke-width="1.25"><line x1="383.42" x2="383.42" y1="540.2" y2="550"/><line x1="379.22" x2="387.62" y1="540.2" y2="540.2"/><line x1="383.42" x2="383.42" y1="567.2" y2="569.2"/><line x1="379.22" x2="387.62" y1="569.2" y2="569.2"/><rect x="375.32" y="550" width="16.2" height="17.2" fill="#f47a18"/><line x1="375.32" x2="391.52" y1="560.1" y2="560.1" stroke-width="1.6"/></g>
<text class="t2" transform="translate(388.72 622.3) rotate(-45)" font-size="8.2" text-anchor="end" textLength="28.56" lengthAdjust="spacingAndGlyphs" fill="#1a1a1a">EAEO-BP</text>
<g stroke="#141414" stroke-width="1.25"><line x1="408.36" x2="408.36" y1="563.5" y2="569.2"/><line x1="404.16" x2="412.56" y1="563.5" y2="563.5"/><line x1="408.36" x2="408.36" y1="577.8" y2="578.3"/><line x1="404.16" x2="412.56" y1="578.3" y2="578.3"/><rect x="400.26" y="569.2" width="16.2" height="8.6" fill="#e66d0a"/><line x1="400.26" x2="416.46" y1="576.5" y2="576.5" stroke-width="1.6"/></g>
<path d="M408.36 543.4l2 2l-2 2l-2 -2z" fill="#111"/>
<text class="t2" transform="translate(413.66 622.3) rotate(-45)" font-size="8.2" text-anchor="end" textLength="26.03" lengthAdjust="spacingAndGlyphs" fill="#1a1a1a">IAEO-BP</text>
<g stroke="#141414" stroke-width="1.25"><line x1="433.3" x2="433.3" y1="532.4" y2="545.9"/><line x1="429.1" x2="437.5" y1="532.4" y2="532.4"/><line x1="433.3" x2="433.3" y1="556.9" y2="568"/><line x1="429.1" x2="437.5" y1="568" y2="568"/><rect x="425.2" y="545.9" width="16.2" height="11" fill="#da660a"/><line x1="425.2" x2="441.4" y1="553.2" y2="553.2" stroke-width="1.6"/></g>
<text class="t2" transform="translate(438.6 622.3) rotate(-45)" font-size="8.2" text-anchor="end" textLength="32.29" lengthAdjust="spacingAndGlyphs" fill="#1a1a1a">AAEO-BP</text>
<g stroke="#141414" stroke-width="1.25"><line x1="458.24" x2="458.24" y1="581.5" y2="583.4"/><line x1="454.04" x2="462.44" y1="581.5" y2="581.5"/><line x1="458.24" x2="458.24" y1="590.8" y2="591.8"/><line x1="454.04" x2="462.44" y1="591.8" y2="591.8"/><rect x="450.14" y="583.4" width="16.2" height="7.4" fill="#c2570b"/><line x1="450.14" x2="466.34" y1="585.9" y2="585.9" stroke-width="1.6"/></g>
<text class="t2" transform="translate(463.54 622.3) rotate(-45)" font-size="8.2" text-anchor="end" textLength="30.07" lengthAdjust="spacingAndGlyphs" fill="#1a1a1a">SAEO-BP</text>
<rect x="482.3" y="450.2" width="18.4" height="5.4" fill="#0a7a6a" stroke="#053d35" stroke-width="0.9"/>
<text class="t" x="508.5" y="455.8" font-size="8.3" textLength="24.76" lengthAdjust="spacingAndGlyphs" fill="#1a1a1a">PSO-BP</text>
<rect x="482.3" y="460.32" width="18.4" height="5.4" fill="#0c8373" stroke="#064139" stroke-width="0.9"/>
<text class="t" x="508.5" y="465.92" font-size="8.3" textLength="28.62" lengthAdjust="spacingAndGlyphs" fill="#1a1a1a">GWO-BP</text>
<rect x="482.3" y="470.44" width="18.4" height="5.4" fill="#0d8e7f" stroke="#06473f" stroke-width="0.9"/>
<text class="t" x="508.5" y="476.04" font-size="8.3" textLength="20.31" lengthAdjust="spacingAndGlyphs" fill="#1a1a1a">DE-BP</text>
<rect x="482.3" y="480.56" width="18.4" height="5.4" fill="#0f9e8c" stroke="#074f46" stroke-width="0.9"/>
<text class="t" x="508.5" y="486.16" font-size="8.3" textLength="25.5" lengthAdjust="spacingAndGlyphs" fill="#1a1a1a">CRO-BP</text>
<rect x="482.3" y="490.68" width="18.4" height="5.4" fill="#15af9e" stroke="#0a574f" stroke-width="0.9"/>
<text class="t" x="508.5" y="496.28" font-size="8.3" textLength="27.43" lengthAdjust="spacingAndGlyphs" fill="#1a1a1a">TWO-BP</text>
<rect x="482.3" y="500.8" width="18.4" height="5.4" fill="#22c2b4" stroke="#11615a" stroke-width="0.9"/>
<text class="t" x="508.5" y="506.4" font-size="8.3" textLength="27.63" lengthAdjust="spacingAndGlyphs" fill="#1a1a1a">MVO-BP</text>
<rect x="482.3" y="510.92" width="18.4" height="5.4" fill="#68d9c7" stroke="#346c63" stroke-width="0.9"/>
<text class="t" x="508.5" y="516.52" font-size="8.3" textLength="24.31" lengthAdjust="spacingAndGlyphs" fill="#1a1a1a">TLO-BP</text>
<rect x="482.3" y="521.04" width="18.4" height="5.4" fill="#a5ecdd" stroke="#52766e" stroke-width="0.9"/>
<text class="t" x="508.5" y="526.64" font-size="8.3" textLength="24.98" lengthAdjust="spacingAndGlyphs" fill="#1a1a1a">LCO-BP</text>
<rect x="482.3" y="531.16" width="18.4" height="5.4" fill="#cdeccf" stroke="#667667" stroke-width="0.9"/>
<text class="t" x="508.5" y="536.76" font-size="8.3" textLength="26.32" lengthAdjust="spacingAndGlyphs" fill="#1a1a1a">SMA-BP</text>
<rect x="482.3" y="541.28" width="18.4" height="5.4" fill="#f3e0b6" stroke="#79705b" stroke-width="0.9"/>
<text class="t" x="508.5" y="546.88" font-size="8.3" textLength="24.27" lengthAdjust="spacingAndGlyphs" fill="#1a1a1a">VCS-BP</text>
<rect x="482.3" y="551.4" width="18.4" height="5.4" fill="#fdd295" stroke="#7e694a" stroke-width="0.9"/>
<text class="t" x="508.5" y="557" font-size="8.3" textLength="24.53" lengthAdjust="spacingAndGlyphs" fill="#1a1a1a">SCA-BP</text>
<rect x="482.3" y="561.52" width="18.4" height="5.4" fill="#fcab5e" stroke="#7e552f" stroke-width="0.9"/>
<text class="t" x="508.5" y="567.12" font-size="8.3" textLength="26.35" lengthAdjust="spacingAndGlyphs" fill="#1a1a1a">AOA-BP</text>
<rect x="482.3" y="571.64" width="18.4" height="5.4" fill="#fb9233" stroke="#7d4919" stroke-width="0.9"/>
<text class="t" x="508.5" y="577.24" font-size="8.3" textLength="27.48" lengthAdjust="spacingAndGlyphs" fill="#1a1a1a">WCA-BP</text>
<rect x="482.3" y="581.76" width="18.4" height="5.4" fill="#f47a18" stroke="#7a3d0c" stroke-width="0.9"/>
<text class="t" x="508.5" y="587.36" font-size="8.3" textLength="29.33" lengthAdjust="spacingAndGlyphs" fill="#1a1a1a">EAEO-BP</text>
<rect x="482.3" y="591.88" width="18.4" height="5.4" fill="#e66d0a" stroke="#733605" stroke-width="0.9"/>
<text class="t" x="508.5" y="597.48" font-size="8.3" textLength="27.3" lengthAdjust="spacingAndGlyphs" fill="#1a1a1a">IAEO-BP</text>
<rect x="482.3" y="602" width="18.4" height="5.4" fill="#da660a" stroke="#6d3305" stroke-width="0.9"/>
<text class="t" x="508.5" y="607.6" font-size="8.3" textLength="30.29" lengthAdjust="spacingAndGlyphs" fill="#1a1a1a">AAEO-BP</text>
<rect x="482.3" y="612.12" width="18.4" height="5.4" fill="#c2570b" stroke="#612b05" stroke-width="0.9"/>
<text class="t" x="508.5" y="617.72" font-size="8.3" textLength="29.34" lengthAdjust="spacingAndGlyphs" fill="#1a1a1a">SAEO-BP</text>
<text x="276.1" y="660.1" style="font-family:'Liberation Serif',serif" font-weight="bold" font-size="14" text-anchor="middle" fill="#111">(c)</text>
<rect x="46.6" y="668.7" width="423.6" height="159.1" fill="#f7f7f7"/>
<line x1="46.6" x2="470.2" y1="795.67" y2="795.67" stroke="#ffffff" stroke-width="1"/>
<line x1="46.6" x2="470.2" y1="763.74" y2="763.74" stroke="#ffffff" stroke-width="1"/>
<line x1="46.6" x2="470.2" y1="731.81" y2="731.81" stroke="#ffffff" stroke-width="1"/>
<line x1="46.6" x2="470.2" y1="699.88" y2="699.88" stroke="#ffffff" stroke-width="1"/>
<text class="t" x="39.2" y="830.35" font-size="8.1" text-anchor="end" textLength="9.56" lengthAdjust="spacingAndGlyphs" fill="#1a1a1a">1.5</text>
<text class="t" x="39.2" y="798.42" font-size="8.1" text-anchor="end" textLength="9.56" lengthAdjust="spacingAndGlyphs" fill="#1a1a1a">1.8</text>
<text class="t" x="39.2" y="766.49" font-size="8.1" text-anchor="end" textLength="9.56" lengthAdjust="spacingAndGlyphs" fill="#1a1a1a">2.1</text>
<text class="t" x="39.2" y="734.56" font-size="8.1" text-anchor="end" textLength="9.56" lengthAdjust="spacingAndGlyphs" fill="#1a1a1a">2.4</text>
<text class="t" x="39.2" y="702.63" font-size="8.1" text-anchor="end" textLength="9.56" lengthAdjust="spacingAndGlyphs" fill="#1a1a1a">2.7</text>
<text class="t" x="39.2" y="670.7" font-size="8.1" text-anchor="end" textLength="9.56" lengthAdjust="spacingAndGlyphs" fill="#1a1a1a">3.0</text>
<text transform="translate(21.4 747.2) rotate(-90)" font-size="10" text-anchor="middle" stroke="#1a1a1a" stroke-width="0.22" textLength="50" lengthAdjust="spacingAndGlyphs" fill="#1a1a1a">RMSE value</text>
<g stroke="#141414" stroke-width="1.25"><line x1="59.5" x2="59.5" y1="723.2" y2="757.3"/><line x1="55.3" x2="63.7" y1="723.2" y2="723.2"/><line x1="59.5" x2="59.5" y1="790.5" y2="792.8"/><line x1="55.3" x2="63.7" y1="792.8" y2="792.8"/><rect x="51.4" y="757.3" width="16.2" height="33.2" fill="#0a7a6a"/><line x1="51.4" x2="67.6" y1="777.2" y2="777.2" stroke-width="1.6"/></g>
<text class="t2" transform="translate(65.3 840.8) rotate(-45)" font-size="8.2" text-anchor="end" textLength="24.36" lengthAdjust="spacingAndGlyphs" fill="#1a1a1a">PSO-BP</text>
<g stroke="#141414" stroke-width="1.25"><line x1="84.37" x2="84.37" y1="702.6" y2="713.7"/><line x1="80.17" x2="88.57" y1="702.6" y2="702.6"/><line x1="84.37" x2="84.37" y1="762.7" y2="794"/><line x1="80.17" x2="88.57" y1="794" y2="794"/><rect x="76.27" y="713.7" width="16.2" height="49" fill="#0c8373"/><line x1="76.27" x2="92.47" y1="745.8" y2="745.8" stroke-width="1.6"/></g>
<text class="t2" transform="translate(90.17 840.8) rotate(-45)" font-size="8.2" text-anchor="end" textLength="28.46" lengthAdjust="spacingAndGlyphs" fill="#1a1a1a">GWO-BP</text>
<g stroke="#141414" stroke-width="1.25"><line x1="109.24" x2="109.24" y1="775.6" y2="781.4"/><line x1="105.04" x2="113.44" y1="775.6" y2="775.6"/><line x1="109.24" x2="109.24" y1="790.6" y2="797.4"/><line x1="105.04" x2="113.44" y1="797.4" y2="797.4"/><rect x="101.14" y="781.4" width="16.2" height="9.2" fill="#0d8e7f"/><line x1="101.14" x2="117.34" y1="788" y2="788" stroke-width="1.6"/></g>
<path d="M109.24 752.4l2 2l-2 2l-2 -2z" fill="#111"/>
<text class="t2" transform="translate(115.04 840.8) rotate(-45)" font-size="8.2" text-anchor="end" textLength="20.82" lengthAdjust="spacingAndGlyphs" fill="#1a1a1a">DE-BP</text>
<g stroke="#141414" stroke-width="1.25"><line x1="134.11" x2="134.11" y1="680" y2="704"/><line x1="129.91" x2="138.31" y1="680" y2="680"/><line x1="134.11" x2="134.11" y1="723" y2="728.4"/><line x1="129.91" x2="138.31" y1="728.4" y2="728.4"/><rect x="126.01" y="704" width="16.2" height="19" fill="#0f9e8c"/><line x1="126.01" x2="142.21" y1="706" y2="706" stroke-width="1.6"/></g>
<path d="M134.11 756.4l2 2l-2 2l-2 -2z" fill="#111"/>
<text class="t2" transform="translate(139.91 840.8) rotate(-45)" font-size="8.2" text-anchor="end" textLength="25.88" lengthAdjust="spacingAndGlyphs" fill="#1a1a1a">CRO-BP</text>
<g stroke="#141414" stroke-width="1.25"><line x1="158.98" x2="158.98" y1="765.6" y2="774"/><line x1="154.78" x2="163.18" y1="765.6" y2="765.6"/><line x1="158.98" x2="158.98" y1="783.4" y2="789.4"/><line x1="154.78" x2="163.18" y1="789.4" y2="789.4"/><rect x="150.88" y="774" width="16.2" height="9.4" fill="#15af9e"/><line x1="150.88" x2="167.08" y1="782" y2="782" stroke-width="1.6"/></g>
<text class="t2" transform="translate(164.78 840.8) rotate(-45)" font-size="8.2" text-anchor="end" textLength="27.27" lengthAdjust="spacingAndGlyphs" fill="#1a1a1a">TWO-BP</text>
<g stroke="#141414" stroke-width="1.25"><line x1="183.85" x2="183.85" y1="752" y2="776"/><line x1="179.65" x2="188.05" y1="752" y2="752"/><line x1="183.85" x2="183.85" y1="795.4" y2="800"/><line x1="179.65" x2="188.05" y1="800" y2="800"/><rect x="175.75" y="776" width="16.2" height="19.4" fill="#22c2b4"/><line x1="175.75" x2="191.95" y1="789.4" y2="789.4" stroke-width="1.6"/></g>
<path d="M183.85 730.6l2 2l-2 2l-2 -2z" fill="#111"/>
<text class="t2" transform="translate(189.65 840.8) rotate(-45)" font-size="8.2" text-anchor="end" textLength="28.32" lengthAdjust="spacingAndGlyphs" fill="#1a1a1a">MVO-BP</text>
<g stroke="#141414" stroke-width="1.25"><line x1="208.72" x2="208.72" y1="763.4" y2="780.4"/><line x1="204.52" x2="212.92" y1="763.4" y2="763.4"/><line x1="208.72" x2="208.72" y1="791.4" y2="801.6"/><line x1="204.52" x2="212.92" y1="801.6" y2="801.6"/><rect x="200.62" y="780.4" width="16.2" height="11" fill="#68d9c7"/><line x1="200.62" x2="216.82" y1="788.6" y2="788.6" stroke-width="1.6"/></g>
<path d="M208.72 721.4l2 2l-2 2l-2 -2z" fill="#111"/>
<text class="t2" transform="translate(214.52 840.8) rotate(-45)" font-size="8.2" text-anchor="end" textLength="22.68" lengthAdjust="spacingAndGlyphs" fill="#1a1a1a">TLO-BP</text>
<g stroke="#141414" stroke-width="1.25"><line x1="233.59" x2="233.59" y1="772.6" y2="781"/><line x1="229.39" x2="237.79" y1="772.6" y2="772.6"/><line x1="233.59" x2="233.59" y1="797.6" y2="799"/><line x1="229.39" x2="237.79" y1="799" y2="799"/><rect x="225.49" y="781" width="16.2" height="16.6" fill="#a5ecdd"/><line x1="225.49" x2="241.69" y1="786" y2="786" stroke-width="1.6"/></g>
<path d="M233.59 703l2 2l-2 2l-2 -2z" fill="#111"/>
<text class="t2" transform="translate(239.39 840.8) rotate(-45)" font-size="8.2" text-anchor="end" textLength="24.06" lengthAdjust="spacingAndGlyphs" fill="#1a1a1a">LCO-BP</text>
<g stroke="#141414" stroke-width="1.25"><line x1="258.46" x2="258.46" y1="709.4" y2="722"/><line x1="254.26" x2="262.66" y1="709.4" y2="709.4"/><line x1="258.46" x2="258.46" y1="755.4" y2="783"/><line x1="254.26" x2="262.66" y1="783" y2="783"/><rect x="250.36" y="722" width="16.2" height="33.4" fill="#cdeccf"/><line x1="250.36" x2="266.56" y1="730" y2="730" stroke-width="1.6"/></g>
<text class="t2" transform="translate(264.26 840.8) rotate(-45)" font-size="8.2" text-anchor="end" textLength="27.52" lengthAdjust="spacingAndGlyphs" fill="#1a1a1a">SMA-BP</text>
<g stroke="#141414" stroke-width="1.25"><line x1="283.33" x2="283.33" y1="752.2" y2="776"/><line x1="279.13" x2="287.53" y1="752.2" y2="752.2"/><line x1="283.33" x2="283.33" y1="796" y2="800"/><line x1="279.13" x2="287.53" y1="800" y2="800"/><rect x="275.23" y="776" width="16.2" height="20" fill="#f3e0b6"/><line x1="275.23" x2="291.43" y1="793" y2="793" stroke-width="1.6"/></g>
<text class="t2" transform="translate(289.13 840.8) rotate(-45)" font-size="8.2" text-anchor="end" textLength="24.63" lengthAdjust="spacingAndGlyphs" fill="#1a1a1a">VCS-BP</text>
<g stroke="#141414" stroke-width="1.25"><line x1="308.2" x2="308.2" y1="745" y2="763.4"/><line x1="304" x2="312.4" y1="745" y2="745"/><line x1="308.2" x2="308.2" y1="783.4" y2="803.6"/><line x1="304" x2="312.4" y1="803.6" y2="803.6"/><rect x="300.1" y="763.4" width="16.2" height="20" fill="#fdd295"/><line x1="300.1" x2="316.3" y1="780.6" y2="780.6" stroke-width="1.6"/></g>
<text class="t2" transform="translate(314 840.8) rotate(-45)" font-size="8.2" text-anchor="end" textLength="25.39" lengthAdjust="spacingAndGlyphs" fill="#1a1a1a">SCA-BP</text>
<g stroke="#141414" stroke-width="1.25"><line x1="333.07" x2="333.07" y1="784.4" y2="786.6"/><line x1="328.87" x2="337.27" y1="784.4" y2="784.4"/><line x1="333.07" x2="333.07" y1="798.6" y2="802.6"/><line x1="328.87" x2="337.27" y1="802.6" y2="802.6"/><rect x="324.97" y="786.6" width="16.2" height="12" fill="#fcab5e"/><line x1="324.97" x2="341.17" y1="796.6" y2="796.6" stroke-width="1.6"/></g>
<path d="M333.07 750l2 2l-2 2l-2 -2z" fill="#111"/>
<text class="t2" transform="translate(338.87 840.8) rotate(-45)" font-size="8.2" text-anchor="end" textLength="27.82" lengthAdjust="spacingAndGlyphs" fill="#1a1a1a">AOA-BP</text>
<g stroke="#141414" stroke-width="1.25"><line x1="357.94" x2="357.94" y1="765.9" y2="767.1"/><line x1="353.74" x2="362.14" y1="765.9" y2="765.9"/><line x1="357.94" x2="357.94" y1="794.1" y2="796"/><line x1="353.74" x2="362.14" y1="796" y2="796"/><rect x="349.84" y="767.1" width="16.2" height="27" fill="#fb9233"/><line x1="349.84" x2="366.04" y1="785" y2="785" stroke-width="1.6"/></g>
<text class="t2" transform="translate(363.74 840.8) rotate(-45)" font-size="8.2" text-anchor="end" textLength="27.04" lengthAdjust="spacingAndGlyphs" fill="#1a1a1a">WCA-BP</text>
<g stroke="#141414" stroke-width="1.25"><line x1="382.81" x2="382.81" y1="711.6" y2="744"/><line x1="378.61" x2="387.01" y1="711.6" y2="711.6"/><line x1="382.81" x2="382.81" y1="785.5" y2="790.4"/><line x1="378.61" x2="387.01" y1="790.4" y2="790.4"/><rect x="374.71" y="744" width="16.2" height="41.5" fill="#f47a18"/><line x1="374.71" x2="390.91" y1="775.7" y2="775.7" stroke-width="1.6"/></g>
<text class="t2" transform="translate(388.61 840.8) rotate(-45)" font-size="8.2" text-anchor="end" textLength="28.56" lengthAdjust="spacingAndGlyphs" fill="#1a1a1a">EAEO-BP</text>
<g stroke="#141414" stroke-width="1.25"><line x1="407.68" x2="407.68" y1="784.3" y2="786.2"/><line x1="403.48" x2="411.88" y1="784.3" y2="784.3"/><line x1="407.68" x2="407.68" y1="789.9" y2="790.5"/><line x1="403.48" x2="411.88" y1="790.5" y2="790.5"/><rect x="399.58" y="786.2" width="16.2" height="3.7" fill="#e66d0a"/><line x1="399.58" x2="415.78" y1="788" y2="788" stroke-width="1.6"/></g>
<path d="M407.68 776.9l2 2l-2 2l-2 -2z" fill="#111"/>
<path d="M407.68 794.5l2 2l-2 2l-2 -2z" fill="#111"/>
<path d="M407.68 797.5l2 2l-2 2l-2 -2z" fill="#111"/>
<text class="t2" transform="translate(413.48 840.8) rotate(-45)" font-size="8.2" text-anchor="end" textLength="26.03" lengthAdjust="spacingAndGlyphs" fill="#1a1a1a">IAEO-BP</text>
<g stroke="#141414" stroke-width="1.25"><line x1="432.55" x2="432.55" y1="746.3" y2="752.9"/><line x1="428.35" x2="436.75" y1="746.3" y2="746.3"/><line x1="432.55" x2="432.55" y1="775.2" y2="784.3"/><line x1="428.35" x2="436.75" y1="784.3" y2="784.3"/><rect x="424.45" y="752.9" width="16.2" height="22.3" fill="#da660a"/><line x1="424.45" x2="440.65" y1="766.6" y2="766.6" stroke-width="1.6"/></g>
<path d="M432.55 706.4l2 2l-2 2l-2 -2z" fill="#111"/>
<text class="t2" transform="translate(438.35 840.8) rotate(-45)" font-size="8.2" text-anchor="end" textLength="32.29" lengthAdjust="spacingAndGlyphs" fill="#1a1a1a">AAEO-BP</text>
<g stroke="#141414" stroke-width="1.25"><line x1="457.42" x2="457.42" y1="793.6" y2="799.5"/><line x1="453.22" x2="461.62" y1="793.6" y2="793.6"/><line x1="457.42" x2="457.42" y1="807.1" y2="814.2"/><line x1="453.22" x2="461.62" y1="814.2" y2="814.2"/><rect x="449.32" y="799.5" width="16.2" height="7.6" fill="#c2570b"/><line x1="449.32" x2="465.52" y1="803.4" y2="803.4" stroke-width="1.6"/></g>
<text class="t2" transform="translate(463.22 840.8) rotate(-45)" font-size="8.2" text-anchor="end" textLength="30.07" lengthAdjust="spacingAndGlyphs" fill="#1a1a1a">SAEO-BP</text>
<rect x="481.7" y="669.3" width="18.4" height="5.4" fill="#0a7a6a" stroke="#053d35" stroke-width="0.9"/>
<text class="t" x="507.8" y="674.9" font-size="8.3" textLength="24.76" lengthAdjust="spacingAndGlyphs" fill="#1a1a1a">PSO-BP</text>
<rect x="481.7" y="679.36" width="18.4" height="5.4" fill="#0c8373" stroke="#064139" stroke-width="0.9"/>
<text class="t" x="507.8" y="684.96" font-size="8.3" textLength="28.62" lengthAdjust="spacingAndGlyphs" fill="#1a1a1a">GWO-BP</text>
<rect x="481.7" y="689.42" width="18.4" height="5.4" fill="#0d8e7f" stroke="#06473f" stroke-width="0.9"/>
<text class="t" x="507.8" y="695.02" font-size="8.3" textLength="20.31" lengthAdjust="spacingAndGlyphs" fill="#1a1a1a">DE-BP</text>
<rect x="481.7" y="699.48" width="18.4" height="5.4" fill="#0f9e8c" stroke="#074f46" stroke-width="0.9"/>
<text class="t" x="507.8" y="705.08" font-size="8.3" textLength="25.5" lengthAdjust="spacingAndGlyphs" fill="#1a1a1a">CRO-BP</text>
<rect x="481.7" y="709.54" width="18.4" height="5.4" fill="#15af9e" stroke="#0a574f" stroke-width="0.9"/>
<text class="t" x="507.8" y="715.14" font-size="8.3" textLength="27.43" lengthAdjust="spacingAndGlyphs" fill="#1a1a1a">TWO-BP</text>
<rect x="481.7" y="719.6" width="18.4" height="5.4" fill="#22c2b4" stroke="#11615a" stroke-width="0.9"/>
<text class="t" x="507.8" y="725.2" font-size="8.3" textLength="27.63" lengthAdjust="spacingAndGlyphs" fill="#1a1a1a">MVO-BP</text>
<rect x="481.7" y="729.66" width="18.4" height="5.4" fill="#68d9c7" stroke="#346c63" stroke-width="0.9"/>
<text class="t" x="507.8" y="735.26" font-size="8.3" textLength="24.31" lengthAdjust="spacingAndGlyphs" fill="#1a1a1a">TLO-BP</text>
<rect x="481.7" y="739.72" width="18.4" height="5.4" fill="#a5ecdd" stroke="#52766e" stroke-width="0.9"/>
<text class="t" x="507.8" y="745.32" font-size="8.3" textLength="24.98" lengthAdjust="spacingAndGlyphs" fill="#1a1a1a">LCO-BP</text>
<rect x="481.7" y="749.78" width="18.4" height="5.4" fill="#cdeccf" stroke="#667667" stroke-width="0.9"/>
<text class="t" x="507.8" y="755.38" font-size="8.3" textLength="26.32" lengthAdjust="spacingAndGlyphs" fill="#1a1a1a">SMA-BP</text>
<rect x="481.7" y="759.84" width="18.4" height="5.4" fill="#f3e0b6" stroke="#79705b" stroke-width="0.9"/>
<text class="t" x="507.8" y="765.44" font-size="8.3" textLength="24.27" lengthAdjust="spacingAndGlyphs" fill="#1a1a1a">VCS-BP</text>
<rect x="481.7" y="769.9" width="18.4" height="5.4" fill="#fdd295" stroke="#7e694a" stroke-width="0.9"/>
<text class="t" x="507.8" y="775.5" font-size="8.3" textLength="24.53" lengthAdjust="spacingAndGlyphs" fill="#1a1a1a">SCA-BP</text>
<rect x="481.7" y="779.96" width="18.4" height="5.4" fill="#fcab5e" stroke="#7e552f" stroke-width="0.9"/>
<text class="t" x="507.8" y="785.56" font-size="8.3" textLength="26.35" lengthAdjust="spacingAndGlyphs" fill="#1a1a1a">AOA-BP</text>
<rect x="481.7" y="790.02" width="18.4" height="5.4" fill="#fb9233" stroke="#7d4919" stroke-width="0.9"/>
<text class="t" x="507.8" y="795.62" font-size="8.3" textLength="27.48" lengthAdjust="spacingAndGlyphs" fill="#1a1a1a">WCA-BP</text>
<rect x="481.7" y="800.08" width="18.4" height="5.4" fill="#f47a18" stroke="#7a3d0c" stroke-width="0.9"/>
<text class="t" x="507.8" y="805.68" font-size="8.3" textLength="29.33" lengthAdjust="spacingAndGlyphs" fill="#1a1a1a">EAEO-BP</text>
<rect x="481.7" y="810.14" width="18.4" height="5.4" fill="#e66d0a" stroke="#733605" stroke-width="0.9"/>
<text class="t" x="507.8" y="815.74" font-size="8.3" textLength="27.3" lengthAdjust="spacingAndGlyphs" fill="#1a1a1a">IAEO-BP</text>
<rect x="481.7" y="820.2" width="18.4" height="5.4" fill="#da660a" stroke="#6d3305" stroke-width="0.9"/>
<text class="t" x="507.8" y="825.8" font-size="8.3" textLength="30.29" lengthAdjust="spacingAndGlyphs" fill="#1a1a1a">AAEO-BP</text>
<rect x="481.7" y="830.26" width="18.4" height="5.4" fill="#c2570b" stroke="#612b05" stroke-width="0.9"/>
<text class="t" x="507.8" y="835.86" font-size="8.3" textLength="29.34" lengthAdjust="spacingAndGlyphs" fill="#1a1a1a">SAEO-BP</text>
<text x="276.1" y="877.5" style="font-family:'Liberation Serif',serif" font-weight="bold" font-size="14" text-anchor="middle" fill="#111">(d)</text>
</svg>
</body></html>
